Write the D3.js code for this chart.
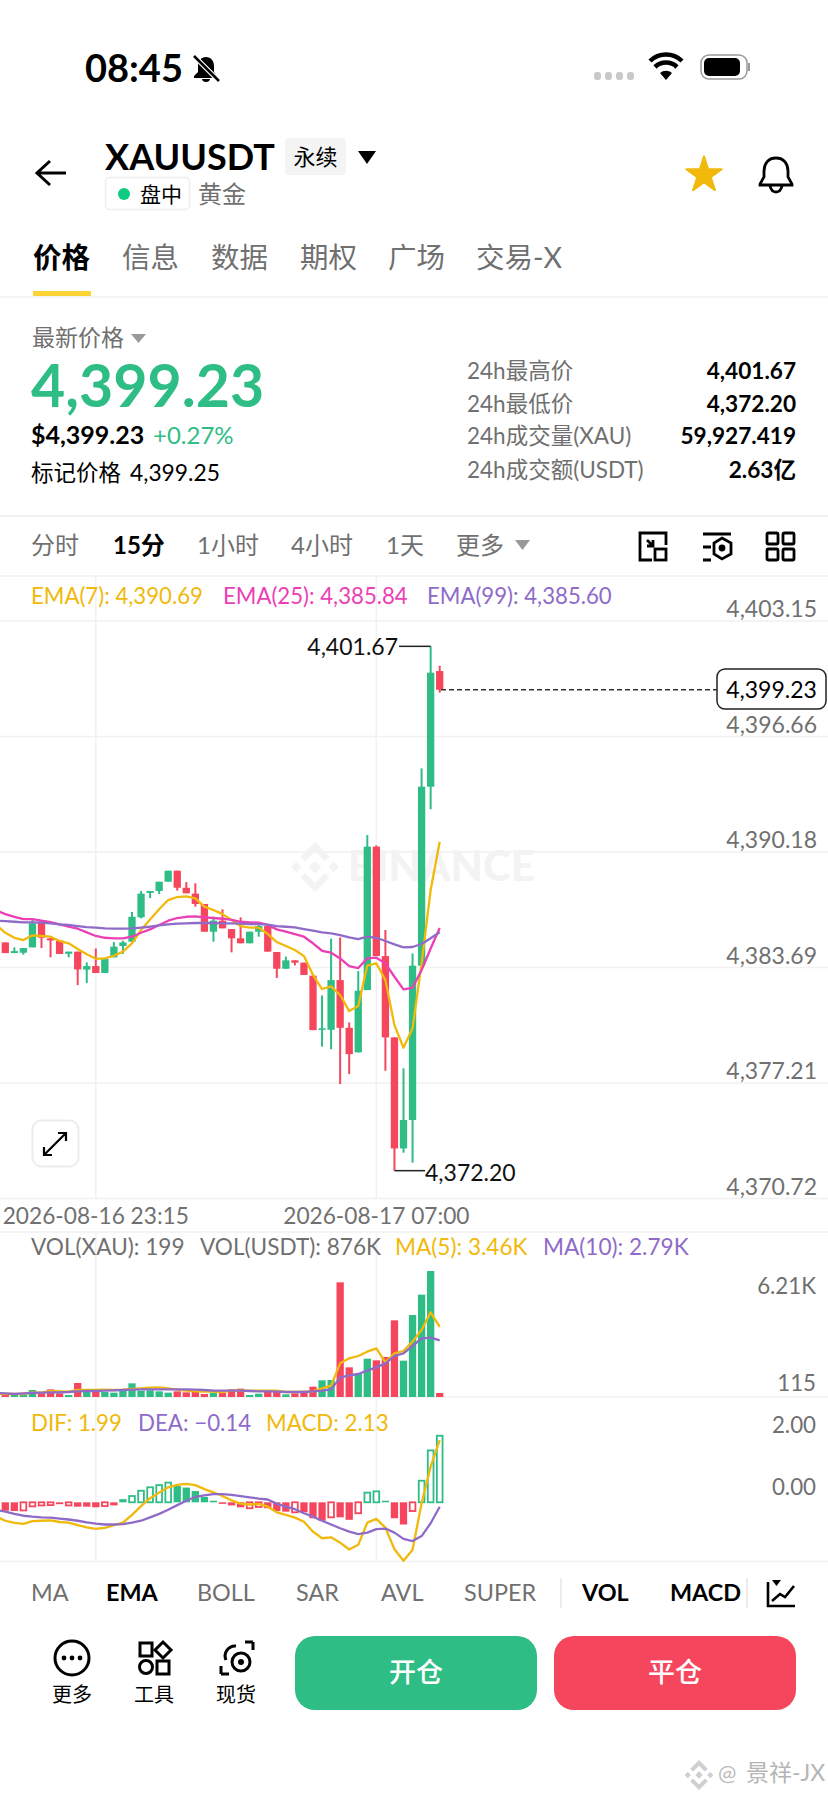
<!DOCTYPE html>
<html>
<head>
<meta charset="utf-8">
<title>XAUUSDT</title>
<script src="https://cdn.jsdelivr.net/npm/d3@7/dist/d3.min.js"></script>
<style>
  html, body { margin: 0; padding: 0; background: #fff; }
  svg { display: block; }
  text { font-family: Lato, "Noto Sans CJK SC", sans-serif; }
</style>
</head>
<body>
<div id="chart"></div>
<script>
// 15m candles, first one sits just off the left edge
const opens = [4385.30,4385.03,4384.43,4384.45,4384.75,4386.19,4385.26,4385.13,4384.39,4384.51,4383.50,4383.70,4383.31,4384.19,4384.83,4385.07,4386.44,4387.81,4387.92,4388.44,4389.06,4388.10,4387.77,4387.19,4385.63,4386.25,4385.78,4385.26,4384.98,4385.63,4385.95,4384.49,4383.55,4384.02,4383.89,4383.16,4380.12,4380.12,4382.91,4380.23,4378.85,4382.35,4390.41,4384.26,4379.69,4373.45,4375.05,4383.72,4393.78,4400.28];
const highs = [4385.30,4385.03,4384.75,4384.71,4386.38,4386.25,4385.26,4385.13,4384.51,4384.51,4383.91,4384.69,4384.10,4385.05,4385.12,4386.74,4387.92,4387.92,4388.44,4389.06,4389.06,4388.42,4388.35,4387.19,4386.47,4386.89,4385.78,4386.44,4385.63,4386.06,4385.95,4384.49,4384.23,4384.02,4383.89,4383.16,4382.05,4385.24,4385.31,4380.53,4383.42,4391.06,4390.48,4385.73,4379.69,4377.95,4384.41,4394.81,4401.67,4400.58];
const lows = [4385.00,4384.43,4384.43,4384.34,4384.75,4384.71,4384.19,4384.38,4384.19,4382.63,4382.75,4383.31,4383.31,4384.19,4384.38,4385.07,4386.38,4387.52,4387.75,4388.44,4387.94,4387.79,4387.04,4385.63,4385.07,4385.82,4384.47,4384.98,4384.98,4385.35,4384.51,4383.03,4383.55,4383.74,4383.20,4380.10,4379.17,4379.02,4377.07,4377.63,4378.85,4382.35,4384.26,4377.82,4372.20,4373.21,4372.65,4383.72,4392.51,4399.07];
const closes = [4385.03,4384.43,4384.54,4384.71,4386.10,4385.29,4385.14,4384.38,4384.51,4383.51,4383.70,4383.31,4384.10,4384.79,4385.03,4386.47,4387.77,4387.92,4388.44,4389.06,4388.10,4387.79,4387.19,4385.63,4386.25,4385.82,4385.26,4384.98,4385.63,4385.95,4384.51,4383.55,4384.02,4383.89,4383.20,4380.10,4380.20,4382.91,4380.23,4378.75,4382.31,4390.41,4384.26,4379.69,4373.45,4375.05,4383.72,4393.78,4400.19,4399.23];

const ema7 = [4386.00,4385.57,4385.29,4385.16,4385.43,4385.39,4385.35,4385.11,4384.98,4384.66,4384.36,4384.11,4384.13,4384.28,4384.51,4384.98,4385.72,4386.32,4386.89,4387.41,4387.58,4387.62,4387.50,4387.04,4386.85,4386.62,4386.29,4385.95,4385.86,4385.86,4385.50,4385.05,4384.83,4384.60,4384.26,4383.20,4382.41,4382.56,4382.07,4381.17,4381.45,4383.72,4383.85,4382.91,4380.38,4379.11,4380.20,4383.85,4387.97,4390.69];
const ema25 = [4386.83,4386.62,4386.47,4386.34,4386.34,4386.25,4386.17,4386.04,4385.91,4385.80,4385.59,4385.39,4385.29,4385.26,4385.26,4385.35,4385.57,4385.76,4386.01,4386.25,4386.40,4386.47,4386.49,4386.44,4386.40,4386.36,4386.29,4386.19,4386.16,4386.14,4386.01,4385.76,4385.63,4385.50,4385.35,4384.98,4384.56,4384.45,4384.13,4383.70,4383.59,4384.13,4384.17,4383.85,4383.10,4382.39,4382.48,4383.48,4384.69,4385.84];
const ema99 = [4386.25,4386.23,4386.19,4386.16,4386.16,4386.14,4386.10,4386.04,4386.01,4385.95,4385.89,4385.86,4385.82,4385.80,4385.80,4385.82,4385.86,4385.91,4385.99,4386.04,4386.08,4386.10,4386.12,4386.12,4386.12,4386.10,4386.10,4386.08,4386.06,4386.06,4386.03,4385.95,4385.91,4385.87,4385.78,4385.69,4385.59,4385.54,4385.44,4385.31,4385.22,4385.35,4385.29,4385.11,4384.92,4384.75,4384.77,4384.94,4385.26,4385.60];

const vols = [120,164,115,115,345,181,378,181,99,690,246,246,246,214,296,674,312,329,279,214,279,230,246,148,214,214,378,411,99,164,246,329,131,181,230,509,822,838,5652,1462,1134,1889,1807,1972,3779,1791,4042,5044,6210,199];
const volMa5 = [150,148,148,148,230,214,296,279,263,345,345,345,361,345,361,394,427,460,476,427,361,312,279,263,263,246,312,312,312,312,312,312,246,246,263,279,427,559,1659,1906,2021,2234,2399,1709,2152,2267,2727,3302,4173,3460];
const volMa10 = [190,181,148,181,197,214,230,230,246,279,296,296,312,329,345,361,378,378,378,378,378,378,361,345,312,312,312,312,296,279,279,263,246,246,246,279,312,378,953,1068,1134,1298,1462,1659,2021,2152,2514,2892,2925,2790];

const macd = [-0.26,-0.27,-0.28,-0.26,-0.13,-0.10,-0.09,-0.06,-0.10,-0.14,-0.14,-0.16,-0.12,-0.10,0.10,0.20,0.37,0.48,0.55,0.63,0.52,0.47,0.36,0.17,0.05,-0.05,-0.10,-0.16,-0.19,-0.15,-0.19,-0.28,-0.30,-0.32,-0.32,-0.51,-0.59,-0.48,-0.48,-0.56,-0.35,0.31,0.35,0.05,-0.51,-0.71,-0.28,0.69,1.66,2.13];
// 1 = drawn hollow in the app (momentum rising)
const macdRising = [0,0,0,1,1,1,1,0,1,0,0,0,1,0,0,1,1,1,1,1,0,0,0,0,0,0,0,0,1,1,0,0,0,1,0,0,0,1,0,0,1,1,1,0,0,0,1,1,1,1];
const dif = [-0.46,-0.59,-0.66,-0.69,-0.60,-0.59,-0.58,-0.63,-0.65,-0.73,-0.80,-0.85,-0.82,-0.73,-0.65,-0.40,-0.12,0.13,0.31,0.48,0.56,0.59,0.55,0.42,0.32,0.20,0.06,-0.04,-0.07,-0.05,-0.14,-0.32,-0.40,-0.49,-0.62,-0.94,-1.15,-1.12,-1.29,-1.51,-1.36,-0.65,-0.53,-0.81,-1.50,-1.87,-1.52,-0.03,1.14,1.99];
const dea = [-0.24,-0.30,-0.37,-0.43,-0.46,-0.48,-0.49,-0.52,-0.55,-0.59,-0.64,-0.68,-0.71,-0.71,-0.70,-0.65,-0.59,-0.48,-0.37,-0.24,-0.09,0.05,0.17,0.22,0.26,0.26,0.24,0.20,0.16,0.12,0.09,-0.05,-0.14,-0.22,-0.35,-0.46,-0.59,-0.71,-0.83,-0.94,-1.02,-0.97,-0.86,-0.84,-0.97,-1.17,-1.24,-1.08,-0.67,-0.14];

const priceTicks = ['4,403.15','4,396.66','4,390.18','4,383.69','4,377.21','4,370.72'];
const gridPrices = [4403.09,4396.60,4390.11,4383.62,4377.13,4370.64];
const timeLabels = [[11,'2026-08-16 23:15'],[42,'2026-08-17 07:00']];
const tabs = [['价格',33],['信息',122],['数据',211],['期权',300],['广场',388],['交易-X',476]];
const stats = [['24h最高价','4,401.67'],['24h最低价','4,372.20'],['24h成交量(XAU)','59,927.419'],['24h成交额(USDT)','2.63亿']];
const intervals = [['分时',31],['15分',113],['1小时',197],['4小时',291],['1天',386],['更多',456]];
const indicators = [['MA',31,0],['EMA',106,1],['BOLL',197,0],['SAR',296,0],['AVL',381,0],['SUPER',464,0],['VOL',582,1],['MACD',670,1]];

const green = '#2EBD85', red = '#F6465D', yellow = '#F0B90B', pink = '#EB40B5', purple = '#8E6BC9';
const grey = '#707070', gridc = '#f1f1f1';

const svg = d3.select('#chart').append('svg').attr('width', 828).attr('height', 1801);

function txt(x, y, s, o) {
  o = o || {};
  return svg.append('text').attr('x', x).attr('y', y)
    .attr('dy', '0.36em')
    .attr('font-size', o.size || 22)
    .attr('font-weight', o.weight || 400)
    .attr('fill', o.fill || '#000')
    .attr('text-anchor', o.anchor || 'start')
    .text(s);
}

function hline(x1, x2, y, c, w) {
  svg.append('line').attr('x1', x1).attr('x2', x2).attr('y1', y).attr('y2', y)
    .attr('stroke', c || gridc).attr('stroke-width', w || 1.5);
}

// binance style diamond
function bnbLogo(g, cx, cy, r) {
  const d = (x, y, s) => 'M' + (cx + x) + ' ' + (cy + y - s) + 'l' + s + ' ' + s + 'l' + (-s) + ' ' + s + 'l' + (-s) + ' ' + (-s) + 'z';
  const k = r / 24;
  g.append('path').attr('d', d(0, 0, 6 * k) + d(-18 * k, 0, 5 * k) + d(18 * k, 0, 5 * k));
  g.append('path').attr('d', 'M' + cx + ' ' + (cy - 24 * k) + 'l' + 14 * k + ' ' + 14 * k + 'l' + -4.5 * k + ' ' + 4.5 * k + 'l' + -9.5 * k + ' ' + -9.5 * k + 'l' + -9.5 * k + ' ' + 9.5 * k + 'l' + -4.5 * k + ' ' + -4.5 * k + 'z');
  g.append('path').attr('d', 'M' + cx + ' ' + (cy + 24 * k) + 'l' + 14 * k + ' ' + -14 * k + 'l' + -4.5 * k + ' ' + -4.5 * k + 'l' + -9.5 * k + ' ' + 9.5 * k + 'l' + -9.5 * k + ' ' + -9.5 * k + 'l' + -4.5 * k + ' ' + 4.5 * k + 'z');
}

// scales
const x = d3.scaleLinear().domain([0, 49]).range([-3.75, 439.7]);
const yPrice = d3.scaleLinear().domain([4370.72, 4403.15]).range([1197, 620]);
const yVol = d3.scaleLinear().domain([0, 6210]).range([1397, 1271]);
const yMacd = d3.scaleLinear().domain([0, 2.13]).range([1502.3, 1435.7]);
const bw = 7.3;

// ---- status bar
txt(85, 68, '08:45', {size: 38, weight: 700});
svg.append('path').attr('transform', 'translate(192,55)')
  .attr('d', 'M14 2c-5 0-8 4-8 9v6l-4 4v2h23v-2l-3-4v-6c0-5-3-9-8-9zM10 24c0 2 2 3 4 3s4-1 4-3z').attr('fill', '#000');
svg.append('line').attr('x1', 194).attr('y1', 56).attr('x2', 219).attr('y2', 81).attr('stroke', '#fff').attr('stroke-width', 5);
svg.append('line').attr('x1', 194).attr('y1', 56).attr('x2', 219).attr('y2', 81).attr('stroke', '#000').attr('stroke-width', 2.5);
[597, 608, 619, 630].forEach(d => svg.append('rect').attr('x', d - 3).attr('y', 72).attr('width', 7).attr('height', 8).attr('rx', 3).attr('fill', '#c9c9c9'));
svg.append('path').attr('d', 'M666 80l-6-7a9 9 0 0 1 12 0z').attr('fill', '#000');
svg.append('path').attr('d', 'M655 67a16 16 0 0 1 22 0').attr('fill', 'none').attr('stroke', '#000').attr('stroke-width', 4.5);
svg.append('path').attr('d', 'M650 61a23 23 0 0 1 32 0').attr('fill', 'none').attr('stroke', '#000').attr('stroke-width', 4.5);
svg.append('rect').attr('x', 701).attr('y', 55).attr('width', 46).attr('height', 24).attr('rx', 8).attr('fill', '#fff').attr('stroke', '#999').attr('stroke-width', 1.5);
svg.append('rect').attr('x', 704).attr('y', 58).attr('width', 36).attr('height', 18).attr('rx', 5).attr('fill', '#000');
svg.append('path').attr('d', 'M749 63v8').attr('stroke', '#999').attr('stroke-width', 2);

// ---- header
svg.append('path').attr('d', 'M66 173H38M50 161l-13 12 13 12').attr('fill', 'none').attr('stroke', '#000').attr('stroke-width', 3);
txt(105, 157, 'XAUUSDT', {size: 36, weight: 700});
svg.append('rect').attr('x', 285).attr('y', 138).attr('width', 61).attr('height', 37).attr('rx', 4).attr('fill', '#f4f4f4');
txt(315.5, 157, '永续', {size: 22, anchor: 'middle'});
svg.append('path').attr('d', 'M358 151h18l-9 13z').attr('fill', '#000');
svg.append('rect').attr('x', 105.5).attr('y', 177.5).attr('width', 84).attr('height', 32).attr('rx', 4).attr('fill', '#fff').attr('stroke', '#eee').attr('stroke-width', 1.5);
svg.append('circle').attr('cx', 124).attr('cy', 194).attr('r', 6).attr('fill', '#0ECB81');
txt(140, 194, '盘中', {size: 21});
txt(198, 194, '黄金', {size: 24, fill: grey});
svg.append('path').attr('transform', 'translate(704,175)')
  .attr('d', d3.symbol().type(d3.symbolStar).size(390)()).attr('fill', yellow)
  .attr('stroke', yellow).attr('stroke-width', 2).attr('stroke-linejoin', 'round');
const bell = 'M776 158c-8 0-12 6-12 13v6l-4 7v1h32v-1l-4-7v-6c0-7-4-13-12-13zM770 186c1 4 3 6 6 6s5-2 6-6';
svg.append('path').attr('d', bell).attr('fill', 'none').attr('stroke', '#000').attr('stroke-width', 2.8);

// tabs
tabs.forEach((t, i) => txt(t[1], 258, t[0], {size: 28.5, weight: i == 0 ? 700 : 400, fill: i == 0 ? '#000' : grey}));
svg.append('rect').attr('x', 33).attr('y', 291).attr('width', 58).attr('height', 5).attr('fill', '#FCD535');
hline(0, 828, 297, '#f2f2f2');

// ---- last price block
txt(32, 338, '最新价格', {size: 23, fill: grey});
svg.append('path').attr('d', 'M131 334h15l-7.5 9z').attr('fill', '#999');
txt(31, 386, '4,399.23', {size: 59, weight: 700, fill: green});
txt(31, 435, '$4,399.23', {size: 25, weight: 700});
txt(153, 435, '+0.27%', {size: 24, fill: green});
txt(31, 473, '标记价格', {size: 22.5});
txt(130, 473, '4,399.25', {size: 22.8});
stats.forEach((s, i) => {
  const yy = [371, 404, 436, 470][i];
  txt(467, yy, s[0], {size: 22.5, fill: grey});
  txt(796, yy, s[1], {size: 22.6, weight: 700, anchor: 'end'});
});
hline(0, 828, 516, '#f0f0f0', 2);

// ---- interval row
intervals.forEach((t, i) => txt(t[1], 545, t[0], {size: 24, weight: i == 1 ? 700 : 400, fill: i == 1 ? '#000' : grey}));
svg.append('path').attr('d', 'M515 540h15l-7.5 10z').attr('fill', '#999');
const ic = svg.append('g').attr('fill', 'none').attr('stroke', '#000').attr('stroke-width', 2.8);
ic.append('path').attr('d', 'M655 533h-15v27h12M655 533h11v12M647 540l6 6M653 540v6h-6');
ic.append('rect').attr('x', 655).attr('y', 549).attr('width', 11).attr('height', 11);
ic.append('path').attr('d', 'M703 534h28M703 547h8M703 560h8');
ic.append('path').attr('d', 'M722 538l9 5v11l-9 5-8-5v-11z');
ic.append('circle').attr('cx', 722).attr('cy', 548).attr('r', 2).attr('fill', '#000');
[[767, 533], [783, 533], [767, 549], [783, 549]].forEach(p =>
  ic.append('rect').attr('x', p[0]).attr('y', p[1]).attr('width', 11).attr('height', 11).attr('rx', 1.5));
hline(0, 828, 576, '#f0f0f0');

// ---- price panel grid and watermark
gridPrices.forEach(p => hline(0, 828, yPrice(p)));
hline(0, 828, 1232);
hline(0, 828, 1397);
hline(0, 828, 1561.5);
timeLabels.forEach(t => {
  [[576, 1198], [1232, 1561]].forEach(r =>
    svg.append('line').attr('x1', x(t[0])).attr('x2', x(t[0])).attr('y1', r[0]).attr('y2', r[1]).attr('stroke', gridc).attr('stroke-width', 1.5));
  txt(x(t[0]), 1216, t[1], {size: 22.7, fill: grey, anchor: 'middle'});
});
const wm = svg.append('g').attr('fill', '#f3f3f3');
bnbLogo(wm, 315, 867, 25);
wm.append('text').attr('x', 348).attr('y', 881).attr('font-size', 42).attr('font-weight', 900).text('BINANCE');

// candles
const candle = svg.append('g').selectAll('g').data(opens).join('g')
  .attr('fill', (d, i) => closes[i] >= d ? green : red);
candle.append('rect')
  .attr('x', (d, i) => x(i) - 1).attr('width', 2)
  .attr('y', (d, i) => yPrice(highs[i]))
  .attr('height', (d, i) => yPrice(lows[i]) - yPrice(highs[i]));
candle.append('rect')
  .attr('x', (d, i) => x(i) - bw / 2).attr('width', bw)
  .attr('y', (d, i) => yPrice(Math.max(d, closes[i])))
  .attr('height', (d, i) => Math.max(1.5, Math.abs(yPrice(d) - yPrice(closes[i]))));

// EMA lines
function drawLine(arr, scale, color, w) {
  const l = d3.line().x((d, i) => x(i)).y(d => scale(d));
  svg.append('path').attr('d', l(arr)).attr('fill', 'none').attr('stroke', color)
    .attr('stroke-width', w || 2.3).attr('stroke-linejoin', 'round');
}
drawLine(ema7, yPrice, yellow);
drawLine(ema25, yPrice, pink);
drawLine(ema99, yPrice, purple);

// legend + axis
txt(31, 596, 'EMA(7): 4,390.69', {size: 22.2, fill: yellow});
txt(223, 596, 'EMA(25): 4,385.84', {size: 22.2, fill: pink});
txt(427, 596, 'EMA(99): 4,385.60', {size: 22.2, fill: purple});
priceTicks.forEach((p, i) => txt(817, yPrice(gridPrices[i]) - 12, p, {size: 23, fill: grey, anchor: 'end'}));

// high / low tags
hline(399, x(48), yPrice(4401.67), '#222', 1.5);
txt(398, 647, '4,401.67', {size: 23, fill: '#111', anchor: 'end'});
hline(x(44), 425, yPrice(4372.20), '#222', 1.5);
txt(425, 1173, '4,372.20', {size: 23, fill: '#111'});

// last price line
svg.append('line').attr('x1', 441).attr('x2', 717).attr('y1', yPrice(4399.23)).attr('y2', yPrice(4399.23))
  .attr('stroke', '#333').attr('stroke-width', 1.3).attr('stroke-dasharray', '5 3');
svg.append('rect').attr('x', 717).attr('y', 669).attr('width', 109).attr('height', 40).attr('rx', 8)
  .attr('fill', '#fff').attr('stroke', '#222').attr('stroke-width', 1.5);
txt(771.5, 690, '4,399.23', {size: 23, anchor: 'middle'});

// expand button
svg.append('rect').attr('x', 32.5).attr('y', 1120.5).attr('width', 46).attr('height', 46).attr('rx', 9)
  .attr('fill', '#fff').attr('stroke', '#ececec').attr('stroke-width', 2);
svg.append('path').attr('d', 'M44 1155l22-22M44 1147v8h8M66 1141v-8h-8').attr('fill', 'none').attr('stroke', '#000').attr('stroke-width', 2.2);

// ---- volume panel
svg.append('g').selectAll('rect').data(vols).join('rect')
  .attr('x', (d, i) => x(i) - bw / 2).attr('width', bw)
  .attr('y', d => yVol(d)).attr('height', d => 1397 - yVol(d))
  .attr('fill', (d, i) => closes[i] >= opens[i] ? green : red);
drawLine(volMa5, yVol, yellow);
drawLine(volMa10, yVol, purple);
txt(31, 1247, 'VOL(XAU): 199', {size: 22.6, fill: grey});
txt(200, 1247, 'VOL(USDT): 876K', {size: 22.6, fill: grey});
txt(395, 1247, 'MA(5): 3.46K', {size: 22.6, fill: yellow});
txt(543, 1247, 'MA(10): 2.79K', {size: 22.6, fill: purple});
txt(816, 1286, '6.21K', {size: 22.3, fill: grey, anchor: 'end'});
txt(816, 1383, '115', {size: 22.3, fill: grey, anchor: 'end'});

// ---- macd panel
svg.append('g').selectAll('rect').data(macd).join('rect')
  .attr('x', (d, i) => x(i) - bw / 2 + (macdRising[i] ? 0.8 : 0))
  .attr('width', (d, i) => macdRising[i] ? bw - 1.6 : bw)
  .attr('y', d => Math.min(yMacd(d), yMacd(0)))
  .attr('height', d => Math.abs(yMacd(d) - yMacd(0)))
  .attr('fill', (d, i) => macdRising[i] ? '#fff' : (d >= 0 ? green : red))
  .attr('stroke', (d, i) => macdRising[i] ? (d >= 0 ? green : red) : 'none')
  .attr('stroke-width', 1.8);
drawLine(dif, yMacd, yellow);
drawLine(dea, yMacd, purple);
txt(31, 1423, 'DIF: 1.99', {size: 22.3, fill: yellow});
txt(138, 1423, 'DEA: −0.14', {size: 22.3, fill: purple});
txt(266, 1423, 'MACD: 2.13', {size: 22.3, fill: yellow});
txt(816, 1425, '2.00', {size: 22.3, fill: grey, anchor: 'end'});
txt(816, 1487, '0.00', {size: 22.3, fill: grey, anchor: 'end'});

// ---- indicator switches
indicators.forEach(t => txt(t[1], 1593, t[0], {size: 23.4, weight: t[2] ? 700 : 400, fill: t[2] ? '#000' : grey}));
[561, 747].forEach(v => svg.append('line').attr('x1', v).attr('x2', v).attr('y1', 1578).attr('y2', 1608).attr('stroke', '#e6e6e6').attr('stroke-width', 1.5));
const ic2 = svg.append('g').attr('fill', 'none').attr('stroke', '#000').attr('stroke-width', 2.6);
ic2.append('path').attr('d', 'M768 1582v24h27M772 1601l8-7 5 3 9-11');
svg.append('path').attr('d', 'M772 1580h9l-4.5 6z').attr('fill', '#000');

// ---- bottom bar
const ic3 = svg.append('g').attr('fill', 'none').attr('stroke', '#000').attr('stroke-width', 3);
ic3.append('circle').attr('cx', 72).attr('cy', 1658).attr('r', 17);
[64, 72, 80].forEach(v => svg.append('circle').attr('cx', v).attr('cy', 1658).attr('r', 2.4).attr('fill', '#000'));
ic3.append('rect').attr('x', 140).attr('y', 1643).attr('width', 12).attr('height', 13);
ic3.append('path').attr('d', 'M163 1642l8 8-8 8-8-8z');
ic3.append('circle').attr('cx', 146).attr('cy', 1667).attr('r', 6.5);
ic3.append('rect').attr('x', 157).attr('y', 1661).attr('width', 12).attr('height', 13);
ic3.append('path').attr('d', 'M221 1674v-8M221 1674h8M253 1642v8M253 1642h-8M226 1660a10 10 0 0 1 10-14');
ic3.append('circle').attr('cx', 241).attr('cy', 1662).attr('r', 9);
svg.append('circle').attr('cx', 241).attr('cy', 1662).attr('r', 3).attr('fill', '#000');
[['更多', 72], ['工具', 154], ['现货', 236]].forEach(t => txt(t[1], 1695, t[0], {size: 20, anchor: 'middle'}));
svg.append('rect').attr('x', 295).attr('y', 1636).attr('width', 242).attr('height', 74).attr('rx', 20).attr('fill', green);
svg.append('rect').attr('x', 554).attr('y', 1636).attr('width', 242).attr('height', 74).attr('rx', 20).attr('fill', red);
txt(416, 1672, '开仓', {size: 27, weight: 500, fill: '#fff', anchor: 'middle'});
txt(675, 1672, '平仓', {size: 27, weight: 500, fill: '#fff', anchor: 'middle'});

// watermark bottom right
const wb = svg.append('g').attr('fill', '#cfcfcf');
bnbLogo(wb, 699, 1775, 15);
txt(718, 1773, '@', {size: 22, fill: '#bbb'});
txt(746, 1773, '景祥-JX', {size: 23, fill: '#b5b5b5'});
</script>
</body>
</html>
